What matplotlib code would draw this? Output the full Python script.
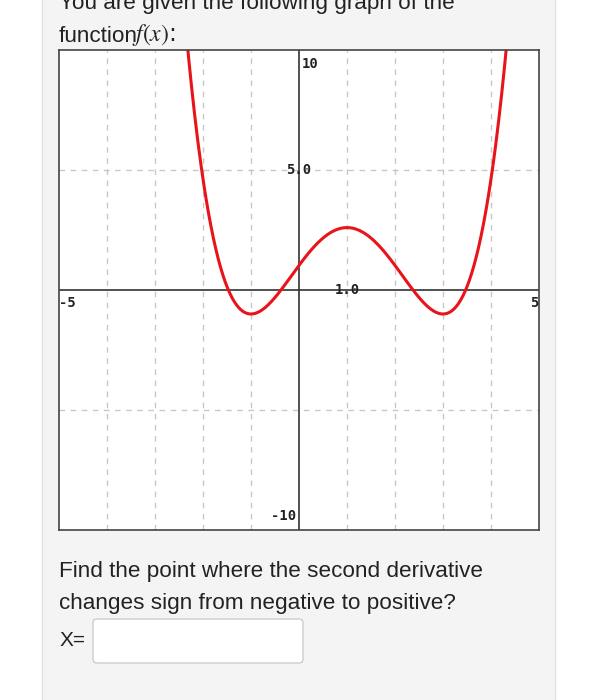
import numpy as np
import matplotlib
matplotlib.use("Agg")
import matplotlib.pyplot as plt
from matplotlib.patches import Rectangle, FancyBboxPatch

plt.rcParams["mathtext.fontset"] = "stix"

# Curve data: quartic with minima at x=-1, x=3 (y=-1) and max at x=1 (y=2.6)
crit_x = [-1.0, 1.0, 3.0]
min_y = -1.0
max_y = 2.6
x_range = [-5, 5]
y_range = [-10, 10]

W, H = 595, 700
fig = plt.figure(figsize=(W/100, H/100), dpi=100)
fig.patch.set_facecolor("white")
bg = fig.add_axes([0, 0, 1, 1]); bg.set_xlim(0, W); bg.set_ylim(H, 0); bg.axis("off")
bg.add_patch(Rectangle((42, -5), 513, H+10, facecolor="#f4f4f4", edgecolor="#e2e2e2", lw=1))
tf = dict(fontsize=16.2, color="#222", va="center", family="Liberation Sans")
bg.text(59, 4, "You are given the following graph of the", **tf)
bg.text(59, 36, "function", **tf)
bg.text(132, 35, r"$f(x)$:", fontsize=17, color="#222", va="center")
bg.text(59, 571, "Find the point where the second derivative", **tf)
bg.text(59, 604, "changes sign from negative to positive?", **tf)
bg.text(60, 641, "X=", fontsize=15, color="#222", va="center", family="Liberation Sans")
bg.add_patch(FancyBboxPatch((93, 619), 210, 44, boxstyle="round,pad=0,rounding_size=4", facecolor="white", edgecolor="#cccccc", lw=1))

L, T, R, B = 59, 50, 539, 530
ax = fig.add_axes([L/W, 1-B/H, (R-L)/W, (B-T)/H])
ax.set_xlim(*x_range); ax.set_ylim(*y_range)
for gx in range(-4, 5):
    if gx != 0:
        ax.axvline(gx, color="#c8c8c8", ls=(0, (4, 4)), lw=1)
for gy in [-5, 5]:
    ax.axhline(gy, color="#c8c8c8", ls=(0, (4, 4)), lw=1)
ax.axhline(0, color="#333", lw=1.2); ax.axvline(0, color="#333", lw=1.2)

c = crit_x[1]; d = crit_x[2] - crit_x[1]
a = (max_y - min_y) / d**4
xs = np.linspace(-5, 5, 800)
ys = a*((xs-c)**2 - d**2)**2 + min_y
ax.plot(xs, ys, color="#e8141a", lw=2.2)

font = dict(family="DejaVu Sans Mono", fontweight="bold", fontsize=10, color="#222")
ax.text(0.05, 9.7, "10", ha="left", va="top", **font)
ax.text(0, 5, "5.0", ha="center", va="center", **font)
ax.text(1, 0, "1.0", ha="center", va="center", **font)
ax.text(-5, -0.55, "-5", ha="left", va="center", **font)
ax.text(4.98, -0.55, "5", ha="right", va="center", **font)
ax.text(-0.05, -9.7, "-10", ha="right", va="bottom", **font)
ax.set_xticks([]); ax.set_yticks([])
for s in ax.spines.values():
    s.set_color("#444"); s.set_linewidth(1.2)
fig.savefig("out.png", dpi=100)
